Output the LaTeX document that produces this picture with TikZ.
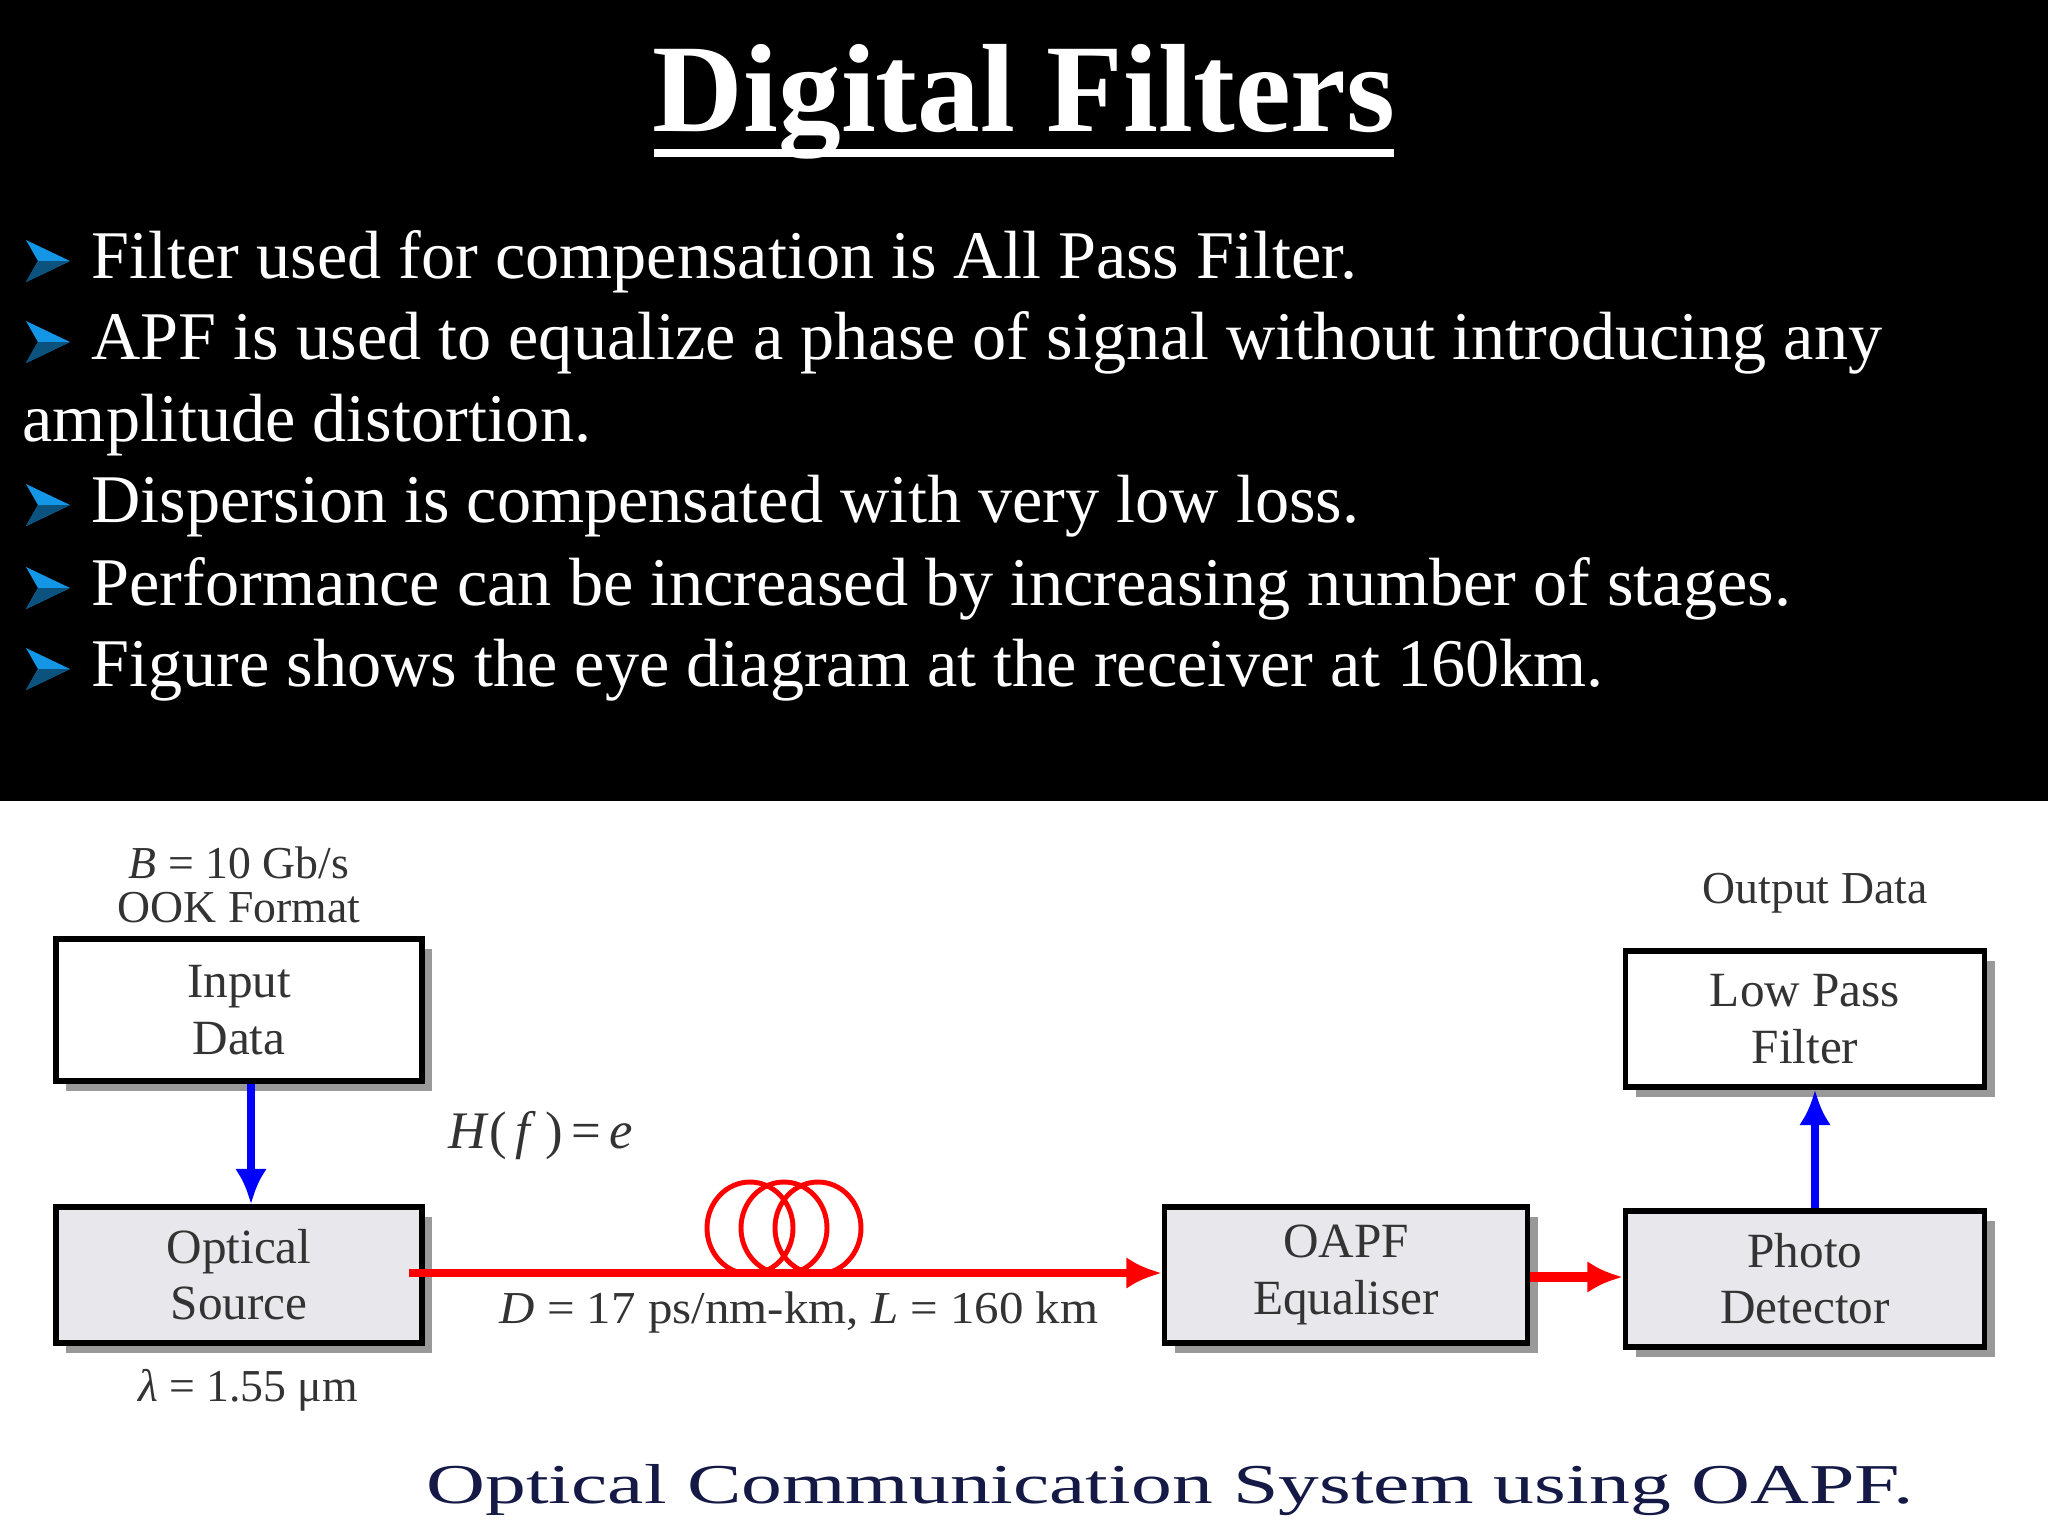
\documentclass[tikz,border=0pt]{standalone}
\usepackage{fontspec}
\setmainfont{Liberation Serif}
\usetikzlibrary{arrows.meta}
\definecolor{bul}{RGB}{20,150,230}
\definecolor{bxfill}{RGB}{232,232,236}
\definecolor{navy}{RGB}{20,25,70}
\begin{document}
\begin{tikzpicture}[x=0.01cm,y=-0.01cm,
  blk/.style={draw=black,line width=1.6pt,inner sep=0pt,align=center,font=\fontsize{14}{16}\selectfont,text=black!80},
  bline/.style={font=\fontsize{19.4}{22}\selectfont,text=white,anchor=base west,inner sep=0pt},
  lab/.style={font=\fontsize{13}{15}\selectfont,text=black!80,inner sep=0pt,anchor=base}]
\useasboundingbox (0,0) rectangle (2048,1536);
\fill[black] (0,0) rectangle (2048,801);
\fill[white] (0,801) rectangle (2048,1536);
% title
\node[text=white,font=\bfseries\fontsize{35.7}{40}\selectfont,anchor=base,inner sep=0pt] (title) at (1024,131) {Digital Filters};
\draw[white,line width=2.2pt] (654,153) -- (1394,153);
% bullets
\tikzset{arrowbul/.pic={\fill[bul] (0,-21) -- (44,0) -- (0,21) -- (12,0) -- cycle; \fill[bul!55!black] (12,0) -- (44,0) -- (0,21) -- cycle;}}
\foreach \yy in {278,359,522,605,686} { \pic at (26,\yy-17) {arrowbul}; }
\node[bline] (b1) at (91,278) {Filter used for compensation is All Pass Filter.};
\node[bline] (b2) at (91,359) {APF is used to equalize a phase of signal without introducing any};
\node[bline] (b2b) at (22,441) {amplitude distortion.};
\node[bline] (b3) at (91,522) {Dispersion is compensated with very low loss.};
\node[bline] (b4) at (91,605) {Performance can be increased by increasing number of stages.};
\node[bline] (b5) at (91,686) {Figure shows the eye diagram at the receiver at 160km.};
% shadows
\foreach \a/\b/\c/\d in {56/939/422/1081, 56/1207/422/1343, 1165/1207/1528/1343, 1626/1211/1985/1347, 1626/951/1985/1087}
  {\fill[gray!80] (\a+10,\b+10) rectangle (\c+10,\d+10);}
% boxes
\node[blk,fill=white,minimum width=3.66cm,minimum height=1.42cm] (in) at (239,1010) {Input\\Data};
\node[blk,fill=bxfill,minimum width=3.66cm,minimum height=1.36cm] (os) at (239,1275) {Optical\\Source};
\node[blk,fill=bxfill,minimum width=3.63cm,minimum height=1.36cm] (eq) at (1346,1275) {OAPF\\Equaliser};
\node[blk,fill=bxfill,minimum width=3.59cm,minimum height=1.36cm] (pd) at (1805,1279) {Photo\\Detector};
\node[blk,fill=white,minimum width=3.59cm,minimum height=1.36cm] (lp) at (1805,1019) {Low Pass\\Filter};
% connectors
\draw[blue,line width=2.2pt,-{Latex[length=10pt,width=9pt]}] (in.south -| 251,0) -- (os.north -| 251,0);
\draw[blue,line width=2.2pt,-{Latex[length=10pt,width=9pt]}] (pd.north -| 1815,0) -- (lp.south -| 1815,0);
\coordinate (fs) at (409,1273);
\draw[red,line width=2.2pt,-{Latex[length=10pt,width=9pt]}] (fs) -- (eq.west |- fs);
\draw[red,line width=2.6pt,-{Latex[length=10pt,width=9pt]}] (eq.east |- 0,1277) -- (pd.west |- 0,1277);
\foreach \cx in {750,784,818} {\draw[red,line width=1.4pt] (\cx,1228) ellipse [x radius=43,y radius=46];}
% labels
\node[lab] (lb) at (239,878) {\textit{B} = 10 Gb/s};
\node[lab] (lok) at (239,922) {OOK Format};
\node[lab] (lout) at (1815,903) {Output Data};
\node[lab,anchor=base west,font=\fontsize{15}{17}\selectfont] (lh) at (448,1148) {\textit{H}(\,\textit{f}\,)\,=\,\textit{e}};
\node[lab,xscale=1.07] (ld) at (799,1323) {\textit{D} = 17 ps/nm-km, \textit{L} = 160 km};
\node[lab] (ll) at (248,1401) {\textit{λ} = 1.55 μm};
\node[text=navy,font=\fontsize{16}{18}\selectfont,anchor=base,inner sep=0pt,xscale=1.45] (cap) at (1170,1503) {Optical Communication System using OAPF.};
\end{tikzpicture}
\end{document}
